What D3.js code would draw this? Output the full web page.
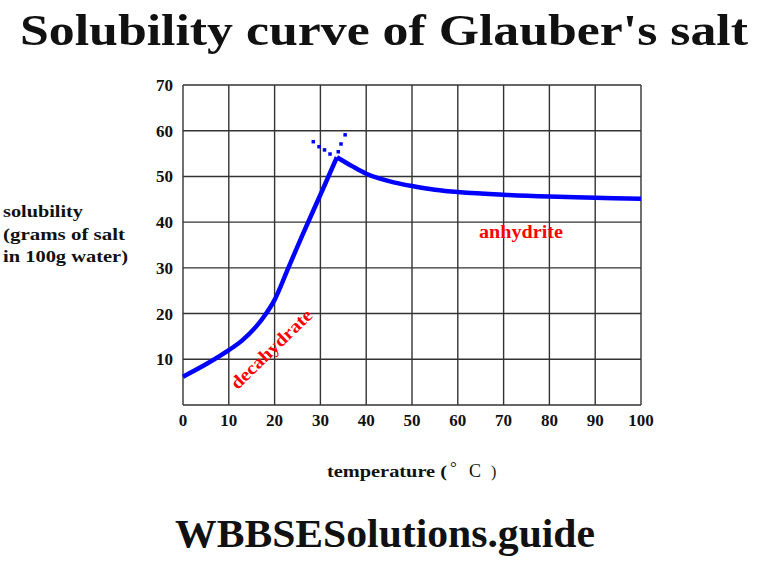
<!DOCTYPE html>
<html>
<head>
<meta charset="utf-8">
<script src="https://cdn.jsdelivr.net/npm/d3@7"></script>
<style>
    body { margin: 0; background: #fff; }
    svg { display: block; }
</style>
</head>
<body>
<svg id="chart" width="768" height="568"></svg>
<script>
// data
var decaTemp = [0, 5, 10, 13, 16, 18, 20, 23, 26, 30, 33.6]
var decaSol = [6.2, 8.9, 12, 14.2, 17.2, 19.8, 23, 30, 37, 46, 54.2]
var anhyTemp = [33.6, 37, 40, 43, 46, 50, 55, 60, 70, 80, 90, 100]
var anhySol = [54.2, 52.2, 50.6, 49.5, 48.7, 47.9, 47.1, 46.6, 46.0, 45.6, 45.35, 45.1]
// dotted extensions past the transition point
var anhyDotTemp = [28.45, 29.7, 30.9, 32.1]
var anhyDotSol = [57.6, 56.5, 55.8, 54.9]
var decaDotTemp = [33.9, 34.5, 35.4]
var decaDotSol = [55.4, 57.1, 59.1]
var xTicks = [0, 10, 20, 30, 40, 50, 60, 70, 80, 90, 100]
var yTicks = [10, 20, 30, 40, 50, 60, 70]
var yGrid = [0, 10, 20, 30, 40, 50, 60, 70]
var yLabelLines = ['solubility', '(grams of salt', 'in 100g water)']
var yLabelWidths = [80, 122, 125]

var svg = d3.select('#chart')
var margin = { left: 183, right: 127, top: 85, bottom: 163 }
var conf = { width: 768, height: 568 }
var x = d3.scaleLinear().domain([0, 100]).range([margin.left, conf.width - margin.right])
var y = d3.scaleLinear().domain([0, 70]).range([conf.height - margin.bottom, margin.top])
var serif = '"Liberation Serif", "DejaVu Serif", serif'

// title
svg.append('text')
    .attr('x', 20).attr('y', 45)
    .attr('textLength', 728).attr('lengthAdjust', 'spacingAndGlyphs')
    .attr('font-family', serif).attr('font-weight', 'bold').attr('font-size', 45)
    .attr('fill', '#111')
    .text("Solubility curve of Glauber's salt")

// grid
var grid = svg.append('g').attr('stroke', '#333').attr('stroke-width', 1.4)
grid.selectAll('line.v').data(xTicks).join('line').attr('class', 'v')
    .attr('x1', d => x(d)).attr('x2', d => x(d))
    .attr('y1', y(70)).attr('y2', y(0))
grid.selectAll('line.h').data(yGrid).join('line').attr('class', 'h')
    .attr('x1', x(0)).attr('x2', x(100))
    .attr('y1', d => y(d)).attr('y2', d => y(d))

// tick labels
var tickFont = { family: serif, size: 17 }
svg.append('g').selectAll('text').data(xTicks).join('text')
    .attr('x', d => x(d)).attr('y', y(0) + 21)
    .attr('text-anchor', 'middle')
    .attr('font-family', tickFont.family).attr('font-weight', 'bold').attr('font-size', tickFont.size)
    .attr('fill', '#111')
    .text(d => d)
svg.append('g').selectAll('text').data(yTicks).join('text')
    .attr('x', x(0) - 10).attr('y', d => y(d) + 6)
    .attr('text-anchor', 'end')
    .attr('font-family', tickFont.family).attr('font-weight', 'bold').attr('font-size', tickFont.size)
    .attr('fill', '#111')
    .text(d => d)

// axis titles
svg.append('g').selectAll('text').data(yLabelLines).join('text')
    .attr('x', 3).attr('y', (d, i) => 217 + i * 22.5)
    .attr('textLength', (d, i) => yLabelWidths[i]).attr('lengthAdjust', 'spacingAndGlyphs')
    .attr('font-family', serif).attr('font-weight', 'bold').attr('font-size', 17)
    .attr('fill', '#111')
    .text(d => d)
var xTitle = svg.append('g').attr('font-family', serif).attr('fill', '#111')
xTitle.append('text')
    .attr('x', 327).attr('y', 477)
    .attr('textLength', 120).attr('lengthAdjust', 'spacingAndGlyphs')
    .attr('font-weight', 'bold').attr('font-size', 16)
    .text('temperature (')
xTitle.append('text')
    .attr('x', 450).attr('y', 473).attr('font-size', 17)
    .text('\u00b0')
xTitle.append('text')
    .attr('x', 469).attr('y', 477).attr('font-size', 18)
    .text('C')
xTitle.append('text')
    .attr('x', 491).attr('y', 477).attr('font-size', 16)
    .text(')')

// curves
var line = d3.line()
    .x(d => x(d[0]))
    .y(d => y(d[1]))
    .curve(d3.curveCatmullRom.alpha(0.5))
var deca = decaTemp.map((t, i) => [t, decaSol[i]])
var anhy = anhyTemp.map((t, i) => [t, anhySol[i]])
svg.append('g').selectAll('path').data([deca, anhy]).join('path')
    .attr('d', line)
    .attr('fill', 'none')
    .attr('stroke', '#0000ff')
    .attr('stroke-width', 4.5)
    .attr('stroke-linejoin', 'miter')

var dots = anhyDotTemp.map((t, i) => [t, anhyDotSol[i]])
    .concat(decaDotTemp.map((t, i) => [t, decaDotSol[i]]))
svg.append('g').selectAll('rect').data(dots).join('rect')
    .attr('x', d => x(d[0]) - 1.75).attr('y', d => y(d[1]) - 1.75)
    .attr('width', 3.5).attr('height', 3.5)
    .attr('fill', '#0000ff')

// phase labels
svg.append('text')
    .attr('x', x(73.8)).attr('y', y(36.5))
    .attr('text-anchor', 'middle')
    .attr('textLength', 84).attr('lengthAdjust', 'spacingAndGlyphs')
    .attr('font-family', serif).attr('font-weight', 'bold').attr('font-size', 18)
    .attr('fill', '#ff0000')
    .text('anhydrite')
svg.append('text')
    .attr('transform', `translate(${x(20.2)},${y(11.3)}) rotate(-44)`)
    .attr('text-anchor', 'middle')
    .attr('textLength', 106).attr('lengthAdjust', 'spacingAndGlyphs')
    .attr('font-family', serif).attr('font-weight', 'bold').attr('font-size', 18)
    .attr('fill', '#ff0000')
    .text('decahydrate')

// footer
svg.append('text')
    .attr('x', 175).attr('y', 547)
    .attr('textLength', 420).attr('lengthAdjust', 'spacingAndGlyphs')
    .attr('font-family', serif).attr('font-weight', 'bold').attr('font-size', 40)
    .attr('fill', '#111')
    .text('WBBSESolutions.guide')
</script>
</body>
</html>
